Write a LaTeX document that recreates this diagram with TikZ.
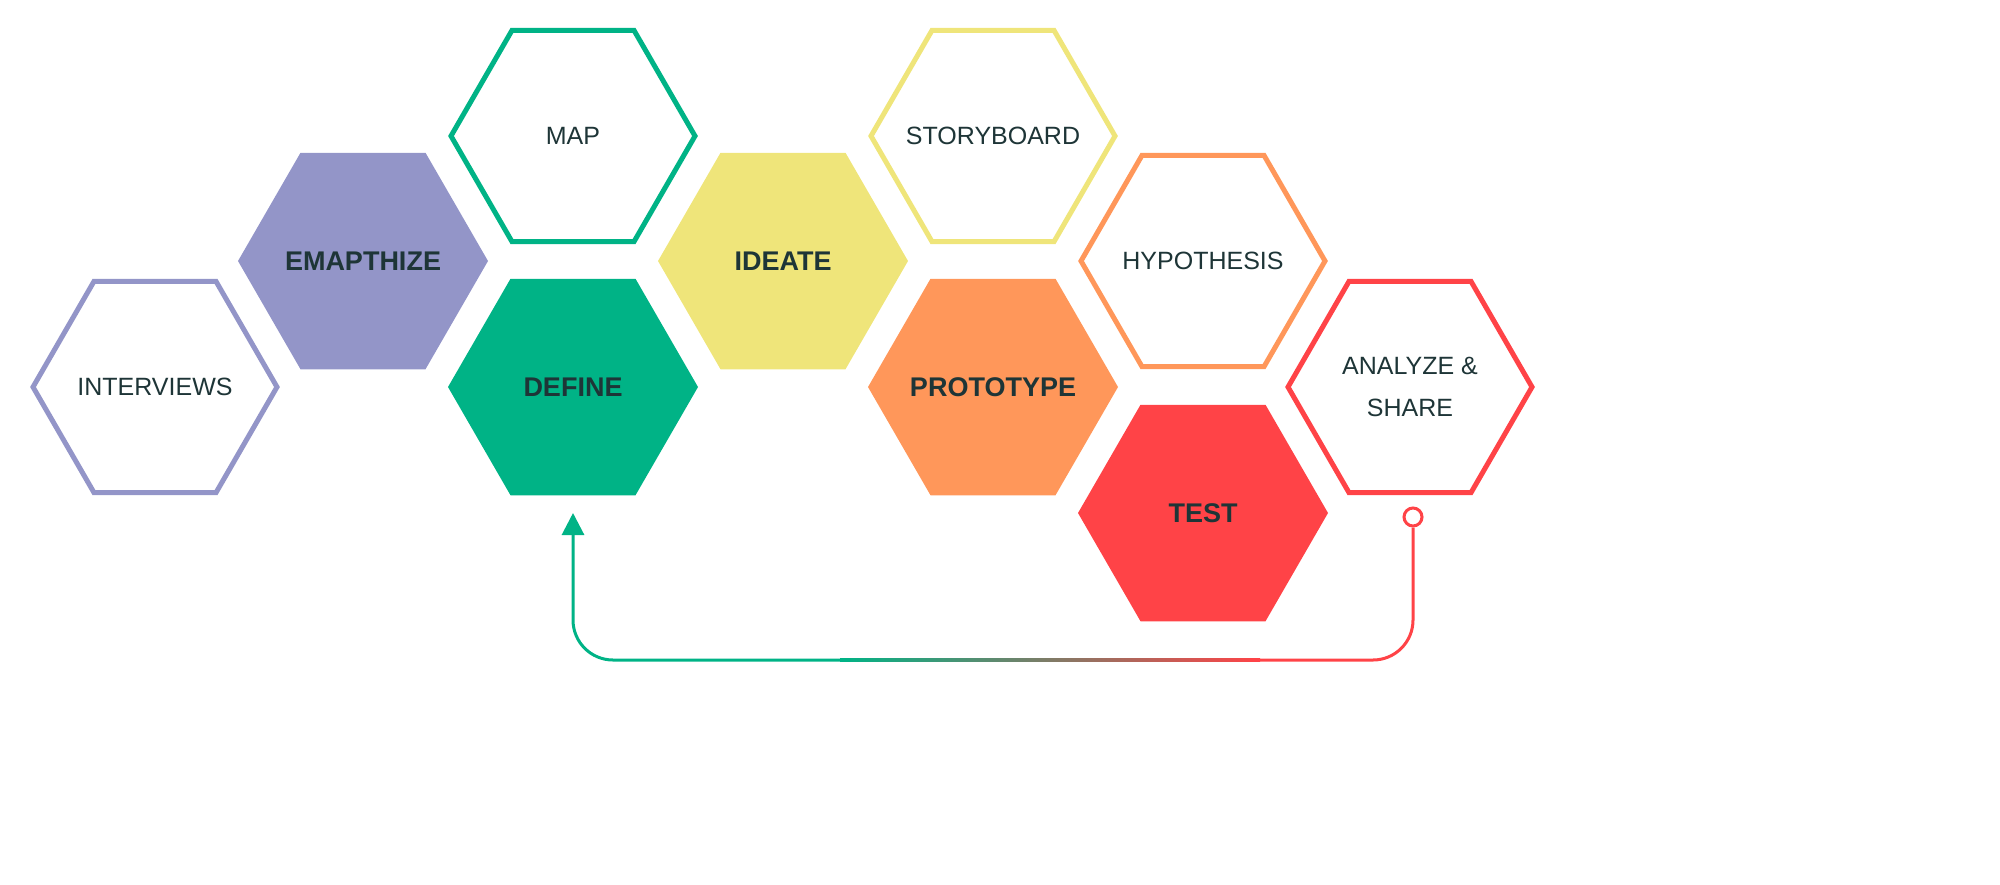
\documentclass[tikz,border=0pt]{standalone}
\usepackage{fontspec}
\setmainfont{Liberation Sans}
\usetikzlibrary{arrows.meta}
\definecolor{cpur}{HTML}{9395C8}
\definecolor{cgrn}{HTML}{00B386}
\definecolor{cyel}{HTML}{EFE57A}
\definecolor{cora}{HTML}{FF975A}
\definecolor{cred}{HTML}{FF4347}
\definecolor{ctxt}{HTML}{1E3537}
\tikzset{
  lbl/.style={text=ctxt,font=\fontsize{12.5}{15}\selectfont,align=center},
  blbl/.style={lbl,font=\fontsize{13.5}{16}\selectfont\bfseries},
  hexo/.style={draw=#1,line width=2.5pt,fill=white,line join=miter},
  hexf/.style={fill=#1,draw=none},
  conn/.style={line width=1.5pt,rounded corners=20pt},
}
\newcommand{\hexo}[3]{\draw[hexo=#3,shift={#1}] (0:122)--(60:122)--(120:122)--(180:122)--(240:122)--(300:122)--cycle;}
\newcommand{\hexf}[3]{\fill[hexf=#3,shift={#1}] (0:125)--(60:125)--(120:125)--(180:125)--(240:125)--(300:125)--cycle;}
\begin{document}
\begin{tikzpicture}[x=0.5pt,y=-0.5pt]
\useasboundingbox (0,0) rectangle (2000,884);
\hexo{(155,387)}{}{cpur}
\hexf{(363,261)}{}{cpur}
\hexo{(573,136)}{}{cgrn}
\hexf{(573,387)}{}{cgrn}
\hexf{(783,261)}{}{cyel}
\hexo{(993,136)}{}{cyel}
\hexf{(993,387)}{}{cora}
\hexo{(1203,261)}{}{cora}
\hexf{(1203,513)}{}{cred}
\hexo{(1410,387)}{}{cred}
\node[lbl] (interviews) at (155,387) {INTERVIEWS};
\node[blbl] (emp) at (363,261) {EMAPTHIZE};
\node[lbl] (map) at (573,136) {MAP};
\node[blbl] (define) at (573,387) {DEFINE};
\node[blbl] (ideate) at (783,261) {IDEATE};
\node[lbl] (story) at (993,136) {STORYBOARD};
\node[blbl] (proto) at (993,387) {PROTOTYPE};
\node[lbl] (hyp) at (1203,261) {HYPOTHESIS};
\node[blbl] (test) at (1203,513) {TEST};
\node[lbl] (analyze) at (1410,387) {ANALYZE \&\\[6pt]SHARE};
\coordinate (dbot) at (573,513);
\node[circle,draw=cred,fill=white,line width=1.5pt,minimum size=9pt,inner sep=0pt] (ring) at (1413,517) {};
\coordinate (gl) at (850,660);
\coordinate (gr) at (1250,660);
\shade[left color=cgrn,right color=cred] (840,658.5) rectangle (1260,661.5);
\draw[cred,conn] (ring.south) |- (gr);
\draw[cgrn,conn,-{Triangle[length=11pt,width=11pt]}] (gl) -| (dbot);
\end{tikzpicture}
\end{document}
